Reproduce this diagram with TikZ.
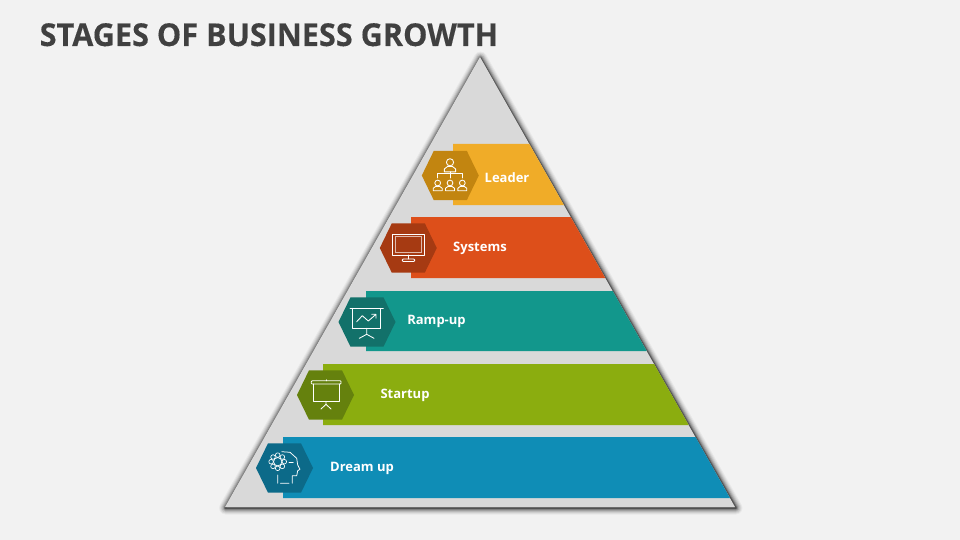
\documentclass[tikz,border=0pt]{standalone}
\usepackage{fontspec}
\setmainfont{Open Sans}
\newfontfamily\titlefont[BoldFeatures={FakeBold=0.25}]{Open Sans}
\definecolor{bgc}{HTML}{F2F2F2}
\definecolor{trifill}{HTML}{D9D9D9}
\definecolor{leadA}{HTML}{F0AC28}\definecolor{leadB}{HTML}{C28510}
\definecolor{sysA}{HTML}{DD4F1A}\definecolor{sysB}{HTML}{A63A12}
\definecolor{rampA}{HTML}{12978C}\definecolor{rampB}{HTML}{12716A}
\definecolor{startA}{HTML}{8BAD0F}\definecolor{startB}{HTML}{65810D}
\definecolor{dreamA}{HTML}{0F8DB6}\definecolor{dreamB}{HTML}{0C6A89}
\definecolor{titlec}{HTML}{404040}
\tikzset{
  x=1pt,y=-1pt,
  band/.style={fill=#1,draw=none},
  hexa/.style={fill=#1,draw=none},
  label/.style={text=white,font=\bfseries\fontsize{13}{16}\selectfont,anchor=center,inner sep=0pt},
  titletext/.style={text=titlec,font=\titlefont\bfseries\fontsize{31.5}{36}\selectfont,anchor=base west,inner sep=0pt,xscale=.973,transform shape},
  icon/.style={draw=white,line width=0.85pt,fill=none,line join=round,line cap=round},
  iconsoft/.style={draw=white,draw opacity=.65,line width=1pt,fill=none},
}
\newcommand{\hexshape}[3]{% cx, cy, colour
  \fill[hexa=#3] (#1-28.5,#2) -- (#1-16.5,#2-24.7) -- (#1+16.5,#2-24.7) -- (#1+28.5,#2) -- (#1+16.5,#2+24.7) -- (#1-16.5,#2+24.7) -- cycle;}
\newcommand{\personicon}[3]{% x, y of head centre, scale
  \draw[icon] (#1,#2) circle[radius=#3*3.6];
  \draw[icon] (#1-#3*5.6,#2+#3*9.6) -- (#1-#3*5.6,#2+#3*6.6) -- (#1-#3*2.4,#2+#3*4.2) -- (#1+#3*2.4,#2+#3*4.2) -- (#1+#3*5.6,#2+#3*6.6) -- (#1+#3*5.6,#2+#3*9.6) -- cycle;}
\begin{document}
\begin{tikzpicture}
\useasboundingbox (0,0) rectangle (960,540);
\fill[bgc] (0,0) rectangle (960,540);
\node[titletext] (title) at (39.5,46) {STAGES OF BUSINESS GROWTH};

% triangle shadow
\foreach \w/\o in {13/.04,11/.06,9/.08,7/.11,5/.15,3/.22,1.5/.30}{
  \draw[black,opacity=\o,line width=\w pt,line join=round] (480.5,58) -- (736,508) -- (225.5,508) -- cycle;
}
\fill[trifill] (480,57) -- (735,507) -- (225,507) -- cycle;

% bands
\fill[band=leadA] (453,144) -- (529.3,144) -- (563.9,205) -- (453,205) -- cycle;
\fill[band=sysA] (411,217) -- (570.7,217) -- (605.3,278) -- (411,278) -- cycle;
\fill[band=rampA] (366,291) -- (612.7,291) -- (646.7,351) -- (366,351) -- cycle;
\fill[band=startA] (323,364) -- (654.1,364) -- (688.7,425) -- (323,425) -- cycle;
\fill[band=dreamA] (283,437) -- (695.5,437) -- (730,498) -- (283,498) -- cycle;

% hexagons
\hexshape{450.3}{175.5}{leadB}
\hexshape{408.3}{248}{sysB}
\hexshape{367}{322}{rampB}
\hexshape{325.5}{395}{startB}
\hexshape{284.5}{468}{dreamB}

% labels
\node[label] (leader) at (507,177.5) {Leader};
\node[label] (systems) at (480,248.5) {Systems};
\node[label] (ramp) at (436.5,321.5) {Ramp-up};
\node[label] (startup) at (405,395.5) {Startup};
\node[label] (dream) at (362,468.5) {Dream up};

% leader icon
\personicon{450}{162.3}{1}
\draw[icon] (450,171.8) -- (450,173.5) (437.7,178) -- (437.7,173.5) -- (462.3,173.5) -- (462.3,178) (450,173.5) -- (450,178);
\personicon{437.7}{183}{.8}
\personicon{450}{183}{.8}
\personicon{462.3}{183}{.8}

% monitor icon
\draw[icon] (392.3,234) rectangle (424.3,255);
\draw[iconsoft] (395,236.7) rectangle (421.8,252.5);
\draw[icon] (408.3,255) -- (408.3,259);
\draw[icon,rounded corners=1pt] (402.3,259) rectangle (414.7,261.5);

% ramp-up icon
\draw[icon] (350,308.3) -- (383.3,308.3);
\draw[icon] (352.3,308.3) -- (352.3,328.3) -- (380.7,328.3) -- (380.7,308.3);
\draw[icon] (366.7,328.3) -- (366.7,334.3) (359.3,338.3) -- (366.7,334.3) -- (374,338.3);
\draw[icon] (356.7,321.7) -- (362.3,315.7) -- (368.3,321) -- (376,314.3) (371.7,314.3) -- (376,314.3) -- (376,318.3);

% startup icon
\draw[icon,rounded corners=.8pt] (311.3,380.8) rectangle (341,384);
\draw[icon] (326,380.8) -- (326,379.8);
\draw[icon] (313.3,384) -- (313.3,401.7) -- (339,401.7) -- (339,384);
\draw[icon] (326,401.7) -- (326,404.3) (321,409) -- (326,404.3) -- (331,409);

% dream icon
\draw[icon,line width=.75pt] (277.7,475) -- (277.7,483.3) (280.5,483.3) -- (289,483.3) (292.3,483.3) -- (292.3,475.7) -- (296.7,475.7) -- (297.7,470.7) -- (300,469.3) -- (297.7,465) -- (296.7,458.3) -- (290,452.3) -- (281.7,451.7);
\draw[icon,line width=.75pt] (289,462.7) -- (293.3,462.7);
\draw[icon,line width=.75pt] (277.7,461.7) circle[radius=4.2];
\foreach \a in {0,45,...,315}{
  \draw[icon,line width=.65pt] ({277.7+6.6*cos(\a)},{461.7+6.6*sin(\a)}) circle[radius=2.3];
}
\end{tikzpicture}
\end{document}
